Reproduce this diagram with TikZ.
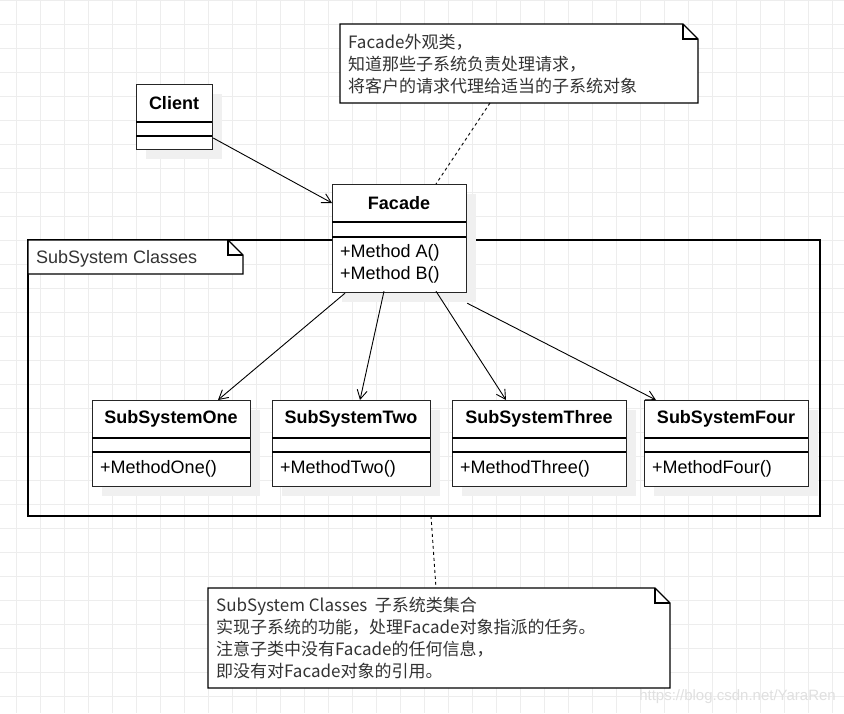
\documentclass[tikz,border=0pt]{standalone}
\usepackage{fontspec}
\setmainfont{Liberation Sans}
\newfontfamily\cjk{Noto Sans CJK SC}
\usetikzlibrary{arrows.meta}
\begin{document}
\begin{tikzpicture}[x=1pt,y=-1pt,
  box/.style={draw=black!85,line width=1.2pt,fill=white,anchor=north west,inner sep=0pt},
  shade/.style={fill=black!6,draw=none},
  conn/.style={line width=0.9pt,-{Straight Barb[length=9pt,width=10pt]}},
  dashline/.style={line width=0.9pt,dash pattern=on 3pt off 3pt},
  ttl/.style={font=\fontsize{18}{18}\selectfont\bfseries},
  mth/.style={font=\fontsize{18}{22}\selectfont,anchor=west,inner sep=0pt},
  ntxt/.style={font=\fontsize{17}{22}\selectfont\cjk,anchor=north west,align=left,inner sep=0pt,text=black!80}]
\useasboundingbox (0,0) rectangle (844,713);
\fill[white] (0,0) rectangle (844,713);
\foreach \x in {16,40,...,844} \draw[black!7,line width=1pt] (\x,0) -- (\x,713);
\foreach \y in {0,24,...,713} \draw[black!7,line width=1pt] (0,\y) -- (844,\y);
% notes
\newcommand\notebox[5]{%
  \draw[line width=1.2pt,fill=white] (#1,#2) -- (#3-15,#2) -- (#3,#2+15) -- (#3,#4) -- (#1,#4) -- cycle;
  \draw[line width=1.2pt] (#3-15,#2) -- (#3-15,#2+15) -- (#3,#2+15);
  \coordinate (#5) at (#1,#2);}
\notebox{340}{24}{698}{103}{topnote}
\node[ntxt] (toptext) at (348,34) {Facade外观类，\\知道那些子系统负责处理请求，\\将客户的请求代理给适当的子系统对象};
% package
\draw[line width=1.2pt] (28,240) rectangle (820,516);
\notebox{28}{240}{243}{274}{pkgtab}
\node[font=\fontsize{18}{18}\selectfont,anchor=west,inner sep=0pt,text=black!80] (pkglabel) at (36,259) {SubSystem Classes};
% client
\fill[shade] (146,94) rectangle (222,159);
\node[box,minimum width=76pt,minimum height=65pt] (client) at (136,84) {};
\draw[line width=1.2pt] (136,122) -- (212,122) (136,136) -- (212,136);
\node[ttl] (clientt) at (174,103) {Client};
% facade
\fill[shade] (342,194) rectangle (476,302);
\node[box,minimum width=134pt,minimum height=108pt] (facade) at (332,184) {};
\draw[line width=1.2pt] (332,222) -- (466,222) (332,237) -- (466,237);
\node[ttl] (facadet) at (399,203) {Facade};
\node[mth] (ma) at (340,253) {+Method A()};
\node[mth] (mb) at (340,275) {+Method B()};
% subsystems
\foreach \n/\a/\b/\t/\m in {one/92/250/SubSystemOne/MethodOne,two/272/430/SubSystemTwo/MethodTwo,three/452/626/SubSystemThree/MethodThree,four/644/808/SubSystemFour/MethodFour}{
  \fill[shade] (\a+10,410) rectangle (\b+10,496);
  \node[box,minimum width=\b-\a,minimum height=86pt] (\n) at (\a,400) {};
  \draw[line width=1.2pt] (\a,438) -- (\b,438) (\a,452) -- (\b,452);
  \node[ttl] (\n t) at ({(\a+\b)/2},419) {\t};
  \node[mth] (\n m) at (\a+8,469) {+\m()};
}
% bottom note
\notebox{208}{588}{670}{688}{botnote}
\node[ntxt] (bottext) at (216,597) {SubSystem Classes\ \ 子系统类集合\\实现子系统的功能，处理Facade对象指派的任务。\\注意子类中没有Facade的任何信息，\\即没有对Facade对象的引用。};
% connectors
\draw[conn] (client.east |- 0,138) -- (facade.west |- 0,203);
\draw[conn] ([xshift=13pt]facade.south west) -- ([xshift=126pt]one.north west);
\draw[conn] ([xshift=52pt,yshift=2pt]facade.south west) -- ([xshift=88pt]two.north west);
\draw[conn] ([xshift=104pt,yshift=2pt]facade.south west) -- ([xshift=54pt]three.north west);
\draw[conn] ([yshift=-10pt]facade.south east) -- ([xshift=12pt]four.north west);
\draw[dashline] ([xshift=150pt]topnote |- 0,103) -- ([xshift=104pt]facade.north west);
\draw[dashline] (431,516) -- ([xshift=228pt]botnote);
\node[font=\fontsize{15}{15}\selectfont,text=black!12,anchor=east,inner sep=0pt] (wm) at (836,697) {https://blog.csdn.net/YaraRen};
\end{tikzpicture}
\end{document}
